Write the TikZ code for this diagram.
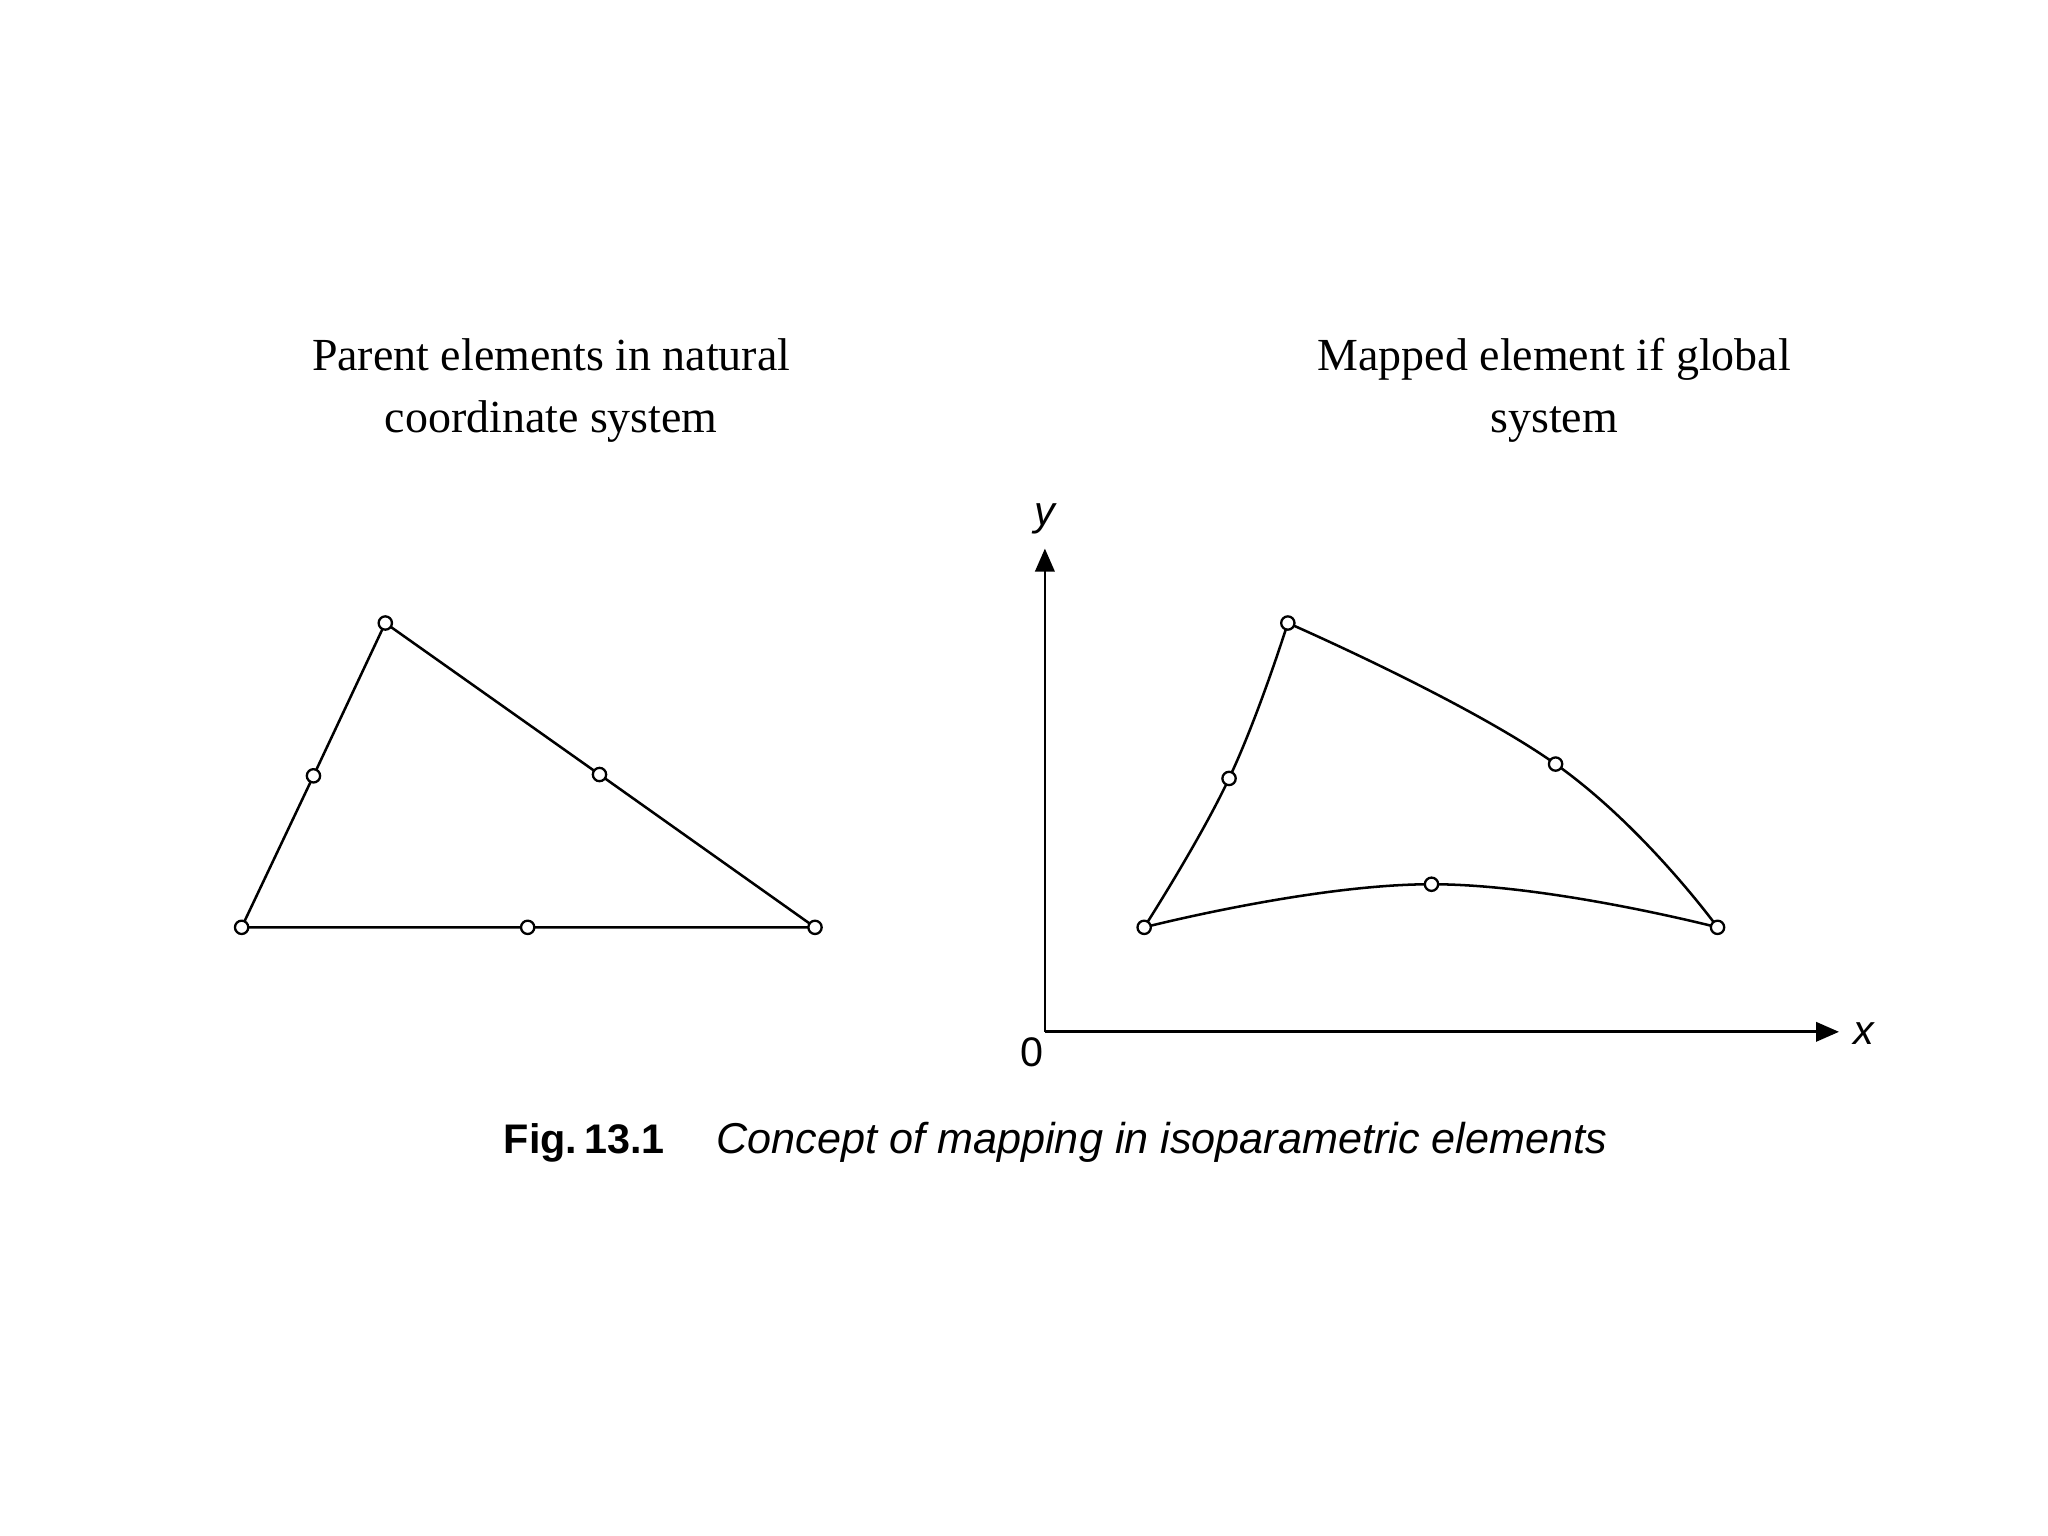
\documentclass[tikz,border=0pt]{standalone}
\usepackage{fontspec}
\setmainfont{Liberation Serif}
\setsansfont{Liberation Sans}
\usetikzlibrary{arrows.meta}

\tikzstyle{pt} = [circle, draw, fill=white, line width=0.5pt, minimum size=2.9pt, inner sep=0pt]
\tikzstyle{edge} = [line width=0.55pt]
\tikzstyle{axis} = [line width=0.6pt, -{Triangle[length=5pt,width=4.2pt]}]
\tikzstyle{heading} = [align=center, font=\fontsize{10}{13.6}\selectfont]
\tikzstyle{axlabel} = [font=\sffamily\fontsize{9}{11}\selectfont, inner sep=0pt]

\begin{document}
\begin{tikzpicture}[x=0.01cm, y=-0.01cm]
\useasboundingbox (0,0) rectangle (1568,1176);

\node[heading] (parent) at (422,299) {Parent elements in natural\\coordinate system};
\node[heading] (mapped) at (1190,299) {Mapped element if global\\system};

\coordinate (a1) at (185,710);
\coordinate (a2) at (624,710);
\coordinate (a3) at (295,477);
\coordinate (a12) at (404,710);
\coordinate (a23) at (459,593);
\coordinate (a31) at (240,594);

\coordinate (b1) at (876,710);
\coordinate (b2) at (1315,710);
\coordinate (b3) at (986,477);
\coordinate (b12) at (1096,677);
\coordinate (b23) at (1191,585);
\coordinate (b31) at (941,596);

\coordinate (origin) at (800,790);
\coordinate (ytip) at (800,420);
\coordinate (xtip) at (1408,790);

\draw[axis] (origin) -- (ytip);
\draw[axis] (origin) -- (xtip);
\node[axlabel] (ylab) at (800,397) {\itshape y};
\node[axlabel] (xlab) at (1427,791) {\itshape x};
\node[axlabel] (olab) at (790,806) {0};

\draw[edge] (a1) -- (a12) -- (a2) -- (a23) -- (a3) -- (a31) -- (a1);

\draw[edge] plot[smooth, tension=0.75] coordinates {(b1) (b12) (b2)};
\draw[edge] plot[smooth, tension=0.75] coordinates {(b2) (b23) (b3)};
\draw[edge] plot[smooth, tension=0.75] coordinates {(b3) (b31) (b1)};

\foreach \p in {a1,a2,a3,a12,a23,a31,b1,b2,b3,b12,b23,b31}
	\node[pt] (n\p) at (\p) {};

\node[anchor=base west, inner sep=0pt, font=\sffamily\bfseries\fontsize{9}{11}\selectfont] (fig) at (385,883) {Fig.\,13.1};
\node[anchor=base west, inner sep=0pt, font=\sffamily\itshape\fontsize{9.4}{11}\selectfont] (caption) at (548,883) {Concept of mapping in isoparametric elements};
\end{tikzpicture}
\end{document}
